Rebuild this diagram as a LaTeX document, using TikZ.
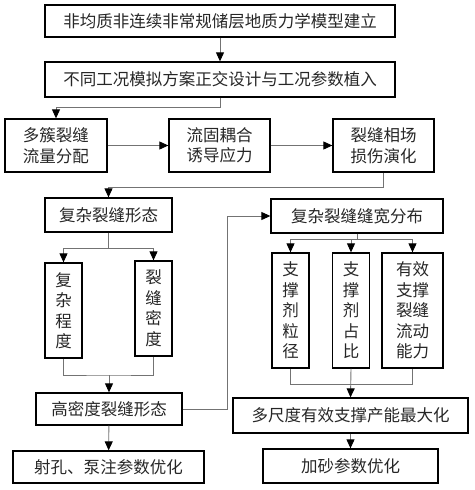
\documentclass[tikz,border=0pt]{standalone}
\usepackage{fontspec}
\setmainfont{Noto Sans CJK SC}
\usetikzlibrary{arrows.meta}
\begin{document}
\begin{tikzpicture}[x=1pt,y=-1pt,
  box/.style={draw=black,line width=1.3pt,inner sep=0pt,align=center,
    font=\fontsize{16.5}{20.5}\selectfont,text=black!85},
  conn/.style={draw=black!55,line width=0.9pt},
  arr/.style={conn,-{Triangle[width=8pt,length=9pt,black]}}]
\useasboundingbox (0,0) rectangle (474,490);
\node[box,minimum width=350,minimum height=32] (n1) at (220,21) {非均质非连续非常规储层地质力学模型建立};
\node[box,minimum width=350,minimum height=35] (n2) at (220,79.5) {不同工况模拟方案正交设计与工况参数植入};
\node[box,minimum width=102,minimum height=53] (nA) at (56,145.5) {多簇裂缝\\流量分配};
\node[box,minimum width=101,minimum height=53] (nB) at (219.5,145.5) {流固耦合\\诱导应力};
\node[box,minimum width=101,minimum height=53] (nC) at (383.5,145.5) {裂缝相场\\损伤演化};
\node[box,minimum width=127,minimum height=34] (nD) at (108.5,215) {复杂裂缝形态};
\node[box,minimum width=172,minimum height=34] (nE) at (357,216) {复杂裂缝缝宽分布};
\node[box,minimum width=37,minimum height=95] (nF) at (63.5,310.5) {复\\杂\\程\\度};
\node[box,minimum width=37,minimum height=95] (nG) at (153.5,308.5) {裂\\缝\\密\\度};
\node[box,minimum width=146,minimum height=32] (nH) at (109,409) {高密度裂缝形态};
\node[box,minimum width=191,minimum height=32] (nI) at (108.5,467) {射孔、泵注参数优化};
\node[box,minimum width=37,minimum height=115] (nJ) at (290.5,310.5) {支\\撑\\剂\\粒\\径};
\node[box,minimum width=37,minimum height=115] (nK) at (351,310.5) {支\\撑\\剂\\占\\比};
\node[box,minimum width=61,minimum height=115] (nL) at (412.5,310.5) {有效\\支撑\\裂缝\\流动\\能力};
\node[box,minimum width=235,minimum height=35] (nM) at (350.5,415.5) {多尺度有效支撑产能最大化};
\node[box,minimum width=175,minimum height=34] (nN) at (350.5,466) {加砂参数优化};
% connectors
\draw[arr] (n1) -- (n2);
\draw[arr] (n2.south) -- ++(0,10) -| (nA.north);
\draw[arr] (nA) -- (nB);
\draw[arr] (nB) -- (nC);
\draw[arr] (nC.south) -- ++(0,15) -| (nD.north);
\coordinate (dj) at (108.5,248);
\draw[conn] (nD.south) -- (dj);
\draw[arr] (dj) -| (nF.north);
\draw[arr] (dj) -| (nG.north);
\coordinate (fg) at (109,375);
\draw[conn] (nF.south) |- (fg) -| (nG.south);
\draw[arr] (fg) -- (nH.north);
\draw[arr] (nH) -- (nI);
\coordinate (hx) at (227,0);
\draw[arr] (nH.east) -- (nH.east -| hx) |- (nE.west);
\coordinate (ej) at (357,239);
\draw[conn] (nE.south) -- (ej);
\draw[arr] (ej) -| (nJ.north);
\draw[arr] (ej) -| (nK.north);
\draw[arr] (ej) -| (nL.north);
\draw[conn] (nJ.south) -- ++(0,16) -| (nL.south);
\draw[arr] (nK.south) -- (nM.north);
\draw[arr] (nM) -- (nN);
\end{tikzpicture}
\end{document}
